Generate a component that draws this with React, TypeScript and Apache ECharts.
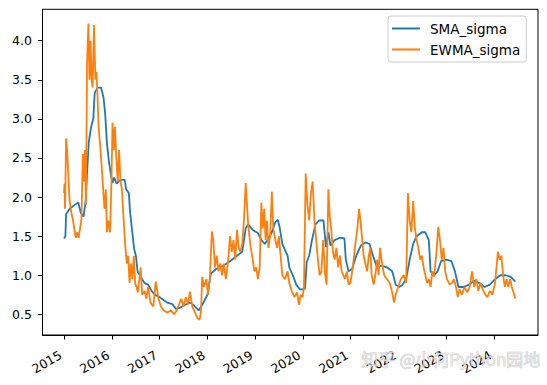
import React, { useEffect, useRef } from "react";
import * as echarts from "echarts";

// Decimal-year positions and values
const smaYears = [
  2015.0, 2015.029, 2015.044, 2015.117, 2015.226, 2015.299, 2015.35, 2015.409, 2015.453, 2015.482,
  2015.518, 2015.569, 2015.613, 2015.642, 2015.701, 2015.774, 2015.825, 2015.861, 2015.898, 2015.942,
  2015.978, 2016.015, 2016.051, 2016.102, 2016.175, 2016.27, 2016.299, 2016.358, 2016.38, 2016.416,
  2016.467, 2016.504, 2016.54, 2016.613, 2016.686, 2016.759, 2016.832, 2016.905, 2017.0, 2017.088,
  2017.161, 2017.27, 2017.343, 2017.416, 2017.526, 2017.635, 2017.708, 2017.818, 2017.891, 2018.0,
  2018.073, 2018.182, 2018.328, 2018.474, 2018.62, 2018.73, 2018.803, 2018.854, 2018.949, 2019.058,
  2019.131, 2019.204, 2019.277, 2019.35, 2019.423, 2019.474, 2019.511, 2019.569, 2019.642, 2019.679,
  2019.715, 2019.788, 2019.861, 2019.934, 2019.993, 2020.044, 2020.08, 2020.131, 2020.19, 2020.263,
  2020.336, 2020.431, 2020.482, 2020.533, 2020.577, 2020.664, 2020.774, 2020.869, 2020.898, 2020.956,
  2021.029, 2021.117, 2021.212, 2021.307, 2021.394, 2021.467, 2021.54, 2021.65, 2021.759, 2021.869,
  2021.942, 2022.015, 2022.088, 2022.161, 2022.234, 2022.307, 2022.38, 2022.489, 2022.562, 2022.635,
  2022.672, 2022.745, 2022.818, 2022.891, 2023.0, 2023.109, 2023.182, 2023.255, 2023.365, 2023.474,
  2023.584, 2023.693, 2023.803, 2023.912, 2024.022, 2024.131, 2024.241, 2024.35, 2024.445,
];
const smaValues = [
  1.47, 1.5, 1.78, 1.85, 1.9, 1.93, 1.8, 1.75, 1.95, 2.3,
  2.7, 2.9, 3.0, 3.33, 3.4, 3.4, 3.28, 3.07, 2.69, 2.45,
  2.3, 2.18, 2.25, 2.17, 2.22, 2.22, 2.1, 2.05, 1.83, 1.62,
  1.34, 1.25, 1.05, 0.97, 0.9, 0.88, 0.8, 0.75, 0.72, 0.68,
  0.65, 0.63, 0.57, 0.58, 0.62, 0.65, 0.62, 0.55, 0.62, 0.75,
  1.02, 1.08, 1.12, 1.18, 1.25, 1.3, 1.6, 1.65, 1.58, 1.54,
  1.45, 1.4, 1.47, 1.55, 1.68, 1.71, 1.62, 1.4, 1.3, 1.25,
  1.1, 1.0, 0.88, 0.82, 0.82, 0.83, 1.17, 1.25, 1.45, 1.65,
  1.7, 1.7, 1.36, 1.55, 1.38, 1.45, 1.48, 1.47, 1.2, 1.05,
  1.08, 1.25, 1.38, 1.42, 1.4, 1.25, 1.12, 1.12, 1.1, 1.05,
  0.88, 0.85, 0.88, 0.95, 1.2, 1.4, 1.5, 1.55, 1.55, 1.45,
  1.05, 1.0, 1.05, 1.18, 1.2, 1.18, 1.05, 0.85, 0.85, 0.88,
  0.93, 0.9, 0.85, 0.88, 0.95, 1.0, 1.0, 0.98, 0.92,
];

const ewmaYears = [
  2015.0, 2015.01, 2015.022, 2015.044, 2015.066, 2015.088, 2015.117, 2015.153, 2015.19, 2015.226,
  2015.248, 2015.277, 2015.307, 2015.336, 2015.365, 2015.394, 2015.416, 2015.438, 2015.46, 2015.482,
  2015.511, 2015.533, 2015.555, 2015.577, 2015.599, 2015.628, 2015.657, 2015.679, 2015.701, 2015.723,
  2015.752, 2015.788, 2015.825, 2015.847, 2015.876, 2015.898, 2015.927, 2015.964, 2015.993, 2016.015,
  2016.044, 2016.066, 2016.095, 2016.124, 2016.153, 2016.182, 2016.212, 2016.248, 2016.285, 2016.314,
  2016.343, 2016.372, 2016.401, 2016.431, 2016.46, 2016.489, 2016.518, 2016.547, 2016.577, 2016.606,
  2016.635, 2016.686, 2016.723, 2016.759, 2016.81, 2016.869, 2016.92, 2016.978, 2017.029, 2017.088,
  2017.161, 2017.234, 2017.307, 2017.358, 2017.401, 2017.453, 2017.504, 2017.547, 2017.599, 2017.635,
  2017.686, 2017.745, 2017.796, 2017.839, 2017.869, 2017.891, 2017.927, 2017.978, 2018.015, 2018.051,
  2018.095, 2018.124, 2018.161, 2018.197, 2018.234, 2018.27, 2018.307, 2018.343, 2018.387, 2018.438,
  2018.474, 2018.511, 2018.547, 2018.584, 2018.62, 2018.657, 2018.693, 2018.73, 2018.766, 2018.803,
  2018.825, 2018.854, 2018.898, 2018.949, 2018.985, 2019.022, 2019.058, 2019.095, 2019.131, 2019.161,
  2019.19, 2019.219, 2019.248, 2019.277, 2019.314, 2019.35, 2019.38, 2019.423, 2019.46, 2019.496,
  2019.533, 2019.569, 2019.628, 2019.679, 2019.715, 2019.774, 2019.825, 2019.876, 2019.92, 2019.949,
  2019.993, 2020.022, 2020.058, 2020.095, 2020.131, 2020.168, 2020.204, 2020.241, 2020.277, 2020.314,
  2020.35, 2020.387, 2020.423, 2020.467, 2020.496, 2020.533, 2020.562, 2020.591, 2020.628, 2020.664,
  2020.701, 2020.737, 2020.774, 2020.81, 2020.847, 2020.883, 2020.92, 2020.956, 2020.993, 2021.044,
  2021.088, 2021.139, 2021.175, 2021.204, 2021.234, 2021.27, 2021.307, 2021.343, 2021.38, 2021.409,
  2021.438, 2021.482, 2021.526, 2021.555, 2021.584, 2021.613, 2021.657, 2021.701, 2021.759, 2021.818,
  2021.869, 2021.905, 2021.942, 2021.993, 2022.051, 2022.109, 2022.161, 2022.197, 2022.234, 2022.27,
  2022.307, 2022.343, 2022.38, 2022.416, 2022.453, 2022.489, 2022.526, 2022.562, 2022.599, 2022.635,
  2022.672, 2022.708, 2022.745, 2022.796, 2022.832, 2022.869, 2022.905, 2022.942, 2022.978, 2023.015,
  2023.073, 2023.117, 2023.161, 2023.204, 2023.241, 2023.277, 2023.328, 2023.38, 2023.438, 2023.49,
  2023.54, 2023.584, 2023.628, 2023.672, 2023.715, 2023.766, 2023.818, 2023.861, 2023.912, 2023.964,
  2024.022, 2024.08, 2024.117, 2024.153, 2024.19, 2024.226, 2024.263, 2024.299, 2024.336, 2024.372,
  2024.409, 2024.445,
];
const ewmaValues = [
  2.05, 2.17, 1.85, 2.75, 2.6, 2.3, 1.95, 1.8, 1.7, 1.55,
  1.48, 1.55, 1.48, 1.6, 1.72, 2.55, 2.2, 2.6, 1.9, 3.7,
  4.22, 3.5, 4.0, 3.5, 3.4, 4.2, 3.5, 3.6, 3.3, 2.9,
  2.7, 2.4, 2.05, 1.85, 2.1, 1.55, 1.7, 1.55, 2.2, 2.95,
  2.6, 2.9, 2.5, 2.2, 2.6, 2.2, 2.1, 1.7, 1.35, 1.15,
  1.25, 0.9, 1.15, 0.95, 1.25, 0.9, 0.85, 0.78, 0.95, 1.1,
  0.75, 0.8, 0.7, 0.85, 0.65, 0.6, 0.92, 0.7, 0.6, 0.55,
  0.52, 0.55, 0.5, 0.55, 0.62, 0.7, 0.6, 0.72, 0.63, 0.79,
  0.6, 0.52, 0.45, 0.43, 0.55, 0.98, 0.85, 0.95, 0.75, 0.95,
  1.56, 1.45, 1.1, 1.25, 1.05, 1.15, 1.0, 1.15, 0.95, 1.2,
  1.5, 1.3, 1.45, 1.2, 1.58, 1.35, 1.3, 1.4, 1.7, 2.18,
  1.95, 1.65, 1.4, 1.2, 1.05, 1.1, 0.95, 1.1, 1.93, 1.6,
  1.85, 1.45, 1.7, 1.35, 1.5, 2.07, 1.6, 1.45, 1.35, 1.5,
  1.25, 1.0, 0.95, 1.05, 0.9, 0.78, 0.72, 0.78, 0.62, 0.75,
  0.72, 0.85, 2.3, 1.9, 1.7, 2.05, 2.2, 1.7, 1.45, 1.2,
  1.0, 1.05, 1.45, 1.0, 0.88, 2.1, 1.75, 1.6, 1.3, 1.2,
  1.35, 1.1, 1.25, 1.05, 1.0, 0.95, 1.05, 0.88, 0.9, 1.1,
  1.35, 1.6, 1.85, 1.7, 1.5, 1.25, 1.15, 1.05, 1.25, 1.35,
  1.0, 0.88, 1.05, 1.2, 1.0, 1.35, 1.15, 1.0, 0.95, 0.9,
  0.78, 0.65, 0.75, 0.85, 0.95, 1.0, 0.9, 2.05, 1.7, 1.55,
  1.95, 1.6, 1.45, 1.35, 1.2, 1.25, 1.1, 1.0, 0.9, 0.95,
  0.85, 1.05, 0.98, 1.3, 1.62, 1.45, 1.2, 1.35, 1.05, 0.95,
  0.88, 0.9, 0.95, 0.85, 0.72, 0.82, 0.75, 0.85, 0.78, 0.85,
  1.05, 0.85, 0.95, 0.8, 0.9, 0.82, 0.75, 0.72, 0.8, 0.75,
  0.9, 1.3, 1.2, 1.25, 1.0, 0.85, 0.95, 0.85, 0.95, 0.85,
  0.78, 0.7,
];

const xTickYears = [2015, 2016, 2017, 2018, 2019, 2020, 2021, 2022, 2023, 2024];
const yTickValues = [0.5, 1.0, 1.5, 2.0, 2.5, 3.0, 3.5, 4.0];
const seriesNames = ["SMA_sigma", "EWMA_sigma"];
const seriesColors = ["#1f77b4", "#ff7f0e"];
const watermarkText = "知乎 @小何Python园地";

function zip(xs: number[], ys: number[]) {
  return xs.map((x, i) => [x, ys[i]]);
}

export default function App() {
  const ref = useRef<HTMLDivElement>(null);
  useEffect(() => {
    if (!ref.current) return;
    const chart = echarts.init(ref.current, null, { renderer: "svg" });
    const font = "DejaVu Sans";
    chart.setOption({
      animation: false,
      backgroundColor: "#ffffff",
      grid: {
        left: 42.5,
        right: 9,
        top: 9.3,
        bottom: 50,
        containLabel: false,
        outerBoundsMode: "none",
        show: true,
        borderColor: "#000000",
        borderWidth: 1,
        backgroundColor: "transparent",
      },
      xAxis: {
        type: "value",
        min: 2014.55,
        max: 2024.92,
        axisLine: { show: true, lineStyle: { color: "#000", width: 1 } },
        axisTick: { show: true, customValues: xTickYears, length: 4.5, lineStyle: { color: "#000", width: 1 } },
        axisLabel: {
          customValues: xTickYears,
          rotate: 30,
          margin: 17,
          padding: [0, 4, 0, 0],
          fontFamily: font,
          fontSize: 12.5,
          color: "#000",
          formatter: (v: number) => String(Math.round(v)),
        },
        splitLine: { show: false },
      },
      yAxis: {
        type: "value",
        min: 0.236,
        max: 4.401,
        axisLine: { show: true, lineStyle: { color: "#000", width: 1 } },
        axisTick: { show: true, customValues: yTickValues, length: 4.5, lineStyle: { color: "#000", width: 1 } },
        axisLabel: {
          customValues: yTickValues,
          margin: 10.5,
          fontFamily: font,
          fontSize: 12.5,
          color: "#000",
          formatter: (v: number) => v.toFixed(1),
        },
        splitLine: { show: false },
      },
      legend: {
        orient: "vertical",
        left: 388,
        top: 16,
        data: seriesNames.map((n) => ({ name: n, icon: "rect" })),
        itemWidth: 28,
        itemHeight: 2,
        itemGap: 5,
        padding: [4.5, 6, 4.5, 4],
        backgroundColor: "rgba(255,255,255,0.8)",
        borderColor: "#cccccc",
        borderWidth: 1,
        borderRadius: 3,
        textStyle: {
          fontFamily: font,
          fontSize: 13.5,
          color: "#000",
          lineHeight: 16,
          padding: [0, 0, 0, 5],
        },
      },
      series: [
        {
          name: seriesNames[0],
          type: "line",
          data: zip(smaYears, smaValues),
          showSymbol: false,
          symbol: "none",
          color: seriesColors[0],
          itemStyle: { color: seriesColors[0] },
          lineStyle: { color: seriesColors[0], width: 1.8 },
          z: 2,
        },
        {
          name: seriesNames[1],
          type: "line",
          data: zip(ewmaYears, ewmaValues),
          showSymbol: false,
          symbol: "none",
          color: seriesColors[1],
          itemStyle: { color: seriesColors[1] },
          lineStyle: { color: seriesColors[1], width: 1.8 },
          z: 3,
        },
      ],
      graphic: [
        {
          type: "text",
          left: 361,
          top: 350,
          z: 100,
          style: {
            text: watermarkText,
            fontSize: 17,
            fontFamily: "Noto Sans CJK SC",
            fill: "rgba(228,228,228,0.85)",
            stroke: "rgba(150,150,150,0.55)",
            lineWidth: 0.7,
          },
        },
      ],
    });
    return () => chart.dispose();
  }, []);
  return (
    <div
      ref={ref}
      style={{ position: "fixed", left: 0, top: 0, width: 547, height: 385, background: "#fff" }}
    />
  );
}
